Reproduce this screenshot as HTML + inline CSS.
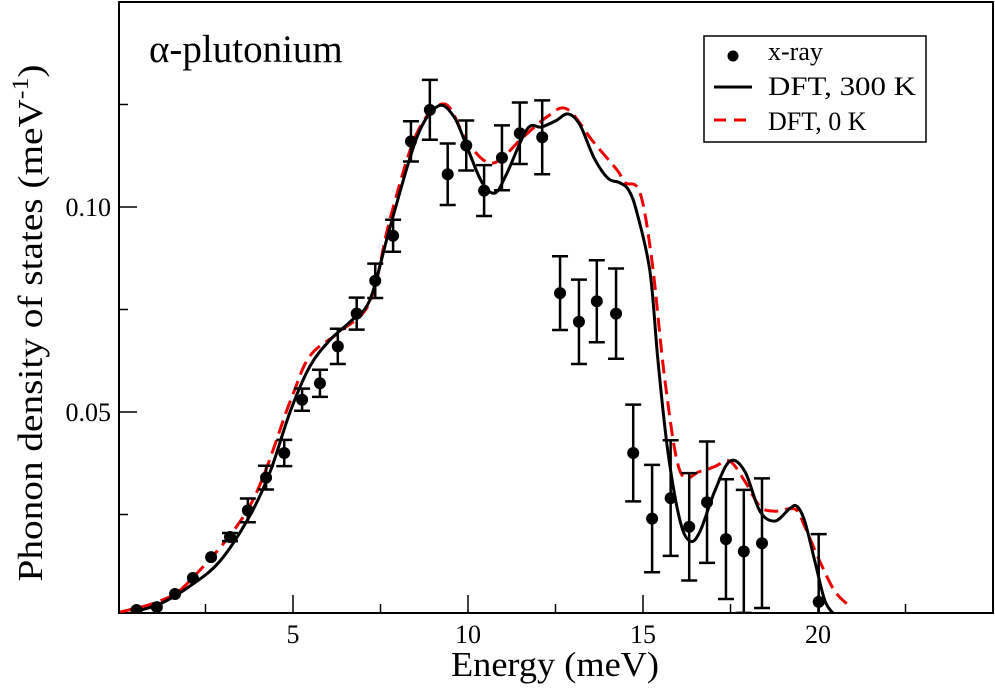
<!DOCTYPE html>
<html><head><meta charset="utf-8"><style>
body{margin:0;background:#fff}
svg text{font-family:"Liberation Serif",serif;fill:#000}
</style></head><body>
<svg id="chart" width="995" height="687" viewBox="0 0 995 687" xmlns="http://www.w3.org/2000/svg">
<g id="axes"></g>
<g id="series"></g>
<text x="149" y="62" font-size="39">α-plutonium</text>
<text x="555" y="676" font-size="35" text-anchor="middle" textLength="208" lengthAdjust="spacingAndGlyphs">Energy (meV)</text>
<text transform="translate(42,323) rotate(-90)" font-size="35" text-anchor="middle" textLength="517" lengthAdjust="spacingAndGlyphs">Phonon density of states (meV<tspan dy="-14" font-size="23">-1</tspan><tspan dy="14">)</tspan></text>
<g>
<rect x="704" y="36" width="222" height="106" fill="#fff" stroke="#000" stroke-width="1.5"/>
<circle cx="733" cy="56" r="5.5" fill="#000"/>
<text x="768" y="60" font-size="26">x-ray</text>
<line x1="714" y1="87" x2="752" y2="87" stroke="#000" stroke-width="3"/>
<text x="768" y="95" font-size="26" textLength="148" lengthAdjust="spacingAndGlyphs">DFT, 300 K</text>
<line x1="714" y1="120" x2="752" y2="120" stroke="#e00" stroke-width="3" stroke-dasharray="12,8"/>
<text x="768" y="130" font-size="26">DFT, 0 K</text>
</g>
</svg>
<script>
const xrayE=[0.53,1.11,1.63,2.14,2.66,3.20,3.71,4.23,4.75,5.26,5.77,6.28,6.82,7.35,7.86,8.37,8.91,9.42,9.95,10.46,10.97,11.48,12.12,12.63,13.17,13.68,14.23,14.72,15.26,15.79,16.32,16.83,17.37,17.88,18.40,20.02];
const xrayDos=[0.0017,0.0024,0.0056,0.0095,0.0146,0.0195,0.026,0.034,0.040,0.053,0.057,0.066,0.074,0.082,0.093,0.116,0.1237,0.108,0.115,0.104,0.112,0.118,0.117,0.079,0.072,0.077,0.074,0.040,0.024,0.029,0.022,0.028,0.019,0.016,0.018,0.0037];
const xrayErr=[0,0,0,0,0,0.001,0.0029,0.0029,0.0032,0.0027,0.0033,0.0043,0.0039,0.0042,0.0039,0.0049,0.0073,0.0075,0.0061,0.0062,0.0079,0.0075,0.009,0.009,0.0103,0.010,0.011,0.0118,0.0131,0.0141,0.0131,0.0148,0.0146,0.015,0.0158,0.0165];
const dft300E=[0.42,1.20,2.05,2.91,3.76,4.35,4.92,5.48,6.06,6.63,7.20,7.77,8.54,9.14,9.60,10.00,10.40,10.77,11.10,11.69,12.10,12.50,12.86,13.20,13.60,14.00,14.34,14.60,14.83,15.20,15.43,15.71,16.06,16.35,16.63,17.05,17.48,17.91,18.34,18.77,19.20,19.40,19.62,19.91,20.20,20.48];
const dft300Dos=[0.0012,0.0032,0.0075,0.0136,0.0246,0.0355,0.0501,0.0611,0.0676,0.0720,0.0774,0.095,0.117,0.1246,0.122,0.114,0.106,0.1034,0.108,0.119,0.1195,0.121,0.1227,0.120,0.112,0.107,0.1059,0.104,0.0985,0.0842,0.0623,0.0404,0.0234,0.0185,0.0209,0.0307,0.0380,0.0355,0.0258,0.0234,0.0265,0.0270,0.0234,0.0136,0.0039,0.0005];
const dft0E=[0.06,1.20,2.05,3.76,4.92,5.48,6.34,7.20,7.77,8.54,9.34,10.00,10.71,11.57,12.26,12.83,13.57,14.26,14.49,14.91,15.26,15.63,16.06,16.63,17.05,17.48,17.91,18.34,18.77,19.35,19.62,20.05,20.48,20.91];
const dft0Dos=[0.0012,0.0039,0.0088,0.0270,0.0526,0.0636,0.0696,0.0769,0.097,0.118,0.1251,0.1156,0.1107,0.117,0.122,0.1239,0.116,0.109,0.1059,0.1036,0.0866,0.0575,0.0355,0.0355,0.0367,0.0380,0.0331,0.0270,0.0258,0.0263,0.0221,0.0136,0.0063,0.0026];
const xTicks=[5,10,15,20];
const xMinor=[2.5,7.5,12.5,17.5,22.5];
const yTicks=[0.05,0.10];
const yMinor=[0.025,0.075,0.125];
const yTickLabels=["0.05","0.10"];

const L=119,R=993,T=2,B=613;
const X=v=>118+v/25*(R-118);
const Y=v=>617-v*4100;
const NS="http://www.w3.org/2000/svg";
function mk(tag,attrs,parent){const e=document.createElementNS(NS,tag);for(const k in attrs)e.setAttribute(k,attrs[k]);parent.appendChild(e);return e;}
const ax=document.getElementById('axes'), se=document.getElementById('series');
const frame=mk('rect',{x:L,y:T,width:R-L,height:B-T,fill:'none',stroke:'#000','stroke-width':2},ax);


xTicks.forEach(v=>{
 const t=mk('line',{x1:X(v),x2:X(v),y1:B,y2:B-18,stroke:'#000','stroke-width':1.5},ax);
 
 
 const lb=mk('text',{x:X(v),y:643,'font-size':26,'text-anchor':'middle'},ax);lb.textContent=v;
 
 
});
xMinor.forEach(v=>{
 const t=mk('line',{x1:X(v),x2:X(v),y1:B,y2:B-9,stroke:'#000','stroke-width':1.5},ax);
 
 
});
yTicks.forEach((v,i)=>{
 const t=mk('line',{x1:L,x2:L+18,y1:Y(v),y2:Y(v),stroke:'#000','stroke-width':1.5},ax);
 
 
 const lb=mk('text',{x:L-8,y:Y(v)+9,'font-size':26,'text-anchor':'end'},ax);lb.textContent=yTickLabels[i];
 
 
});
yMinor.forEach(v=>{
 const t=mk('line',{x1:L,x2:L+9,y1:Y(v),y2:Y(v),stroke:'#000','stroke-width':1.5},ax);
 
 
});
function smooth(xs,ys){
 const p=xs.map((x,i)=>[X(x),Y(ys[i])]);
 let d='M'+p[0][0]+','+p[0][1];
 for(let i=0;i<p.length-1;i++){
  const p0=p[Math.max(0,i-1)],p1=p[i],p2=p[i+1],p3=p[Math.min(p.length-1,i+2)];
  const c1=[p1[0]+(p2[0]-p0[0])/6,p1[1]+(p2[1]-p0[1])/6],c2=[p2[0]-(p3[0]-p1[0])/6,p2[1]-(p3[1]-p1[1])/6];
  d+=`C${c1[0]},${c1[1]} ${c2[0]},${c2[1]} ${p2[0]},${p2[1]}`;
 }
 return d;
}
const cp=mk('clipPath',{id:'clip'},se);mk('rect',{x:L,y:T,width:R-L,height:B-T},cp);
const g=mk('g',{'clip-path':'url(#clip)'},se);
const l0=mk('path',{d:smooth(dft0E,dft0Dos),fill:'none',stroke:'#e00','stroke-width':3,'stroke-dasharray':'14,7'},g);


const l3=mk('path',{d:smooth(dft300E,dft300Dos),fill:'none',stroke:'#000','stroke-width':3},g);


xrayE.forEach((e,i)=>{
 const x=X(e),y=Y(xrayDos[i]),er=xrayErr[i];
 if(er>0){
  const y1=Y(xrayDos[i]+er),y2=Y(xrayDos[i]-er);
  const eb=mk('path',{d:`M${x},${y1}V${y2}M${x-8},${y1}H${x+8}M${x-8},${y2}H${x+8}`,stroke:'#000','stroke-width':2.5,fill:'none'},g);
  
  
 }
 const c=mk('circle',{cx:x,cy:y,r:6,fill:'#000'},g);
 
 
});
</script>
</body></html>
